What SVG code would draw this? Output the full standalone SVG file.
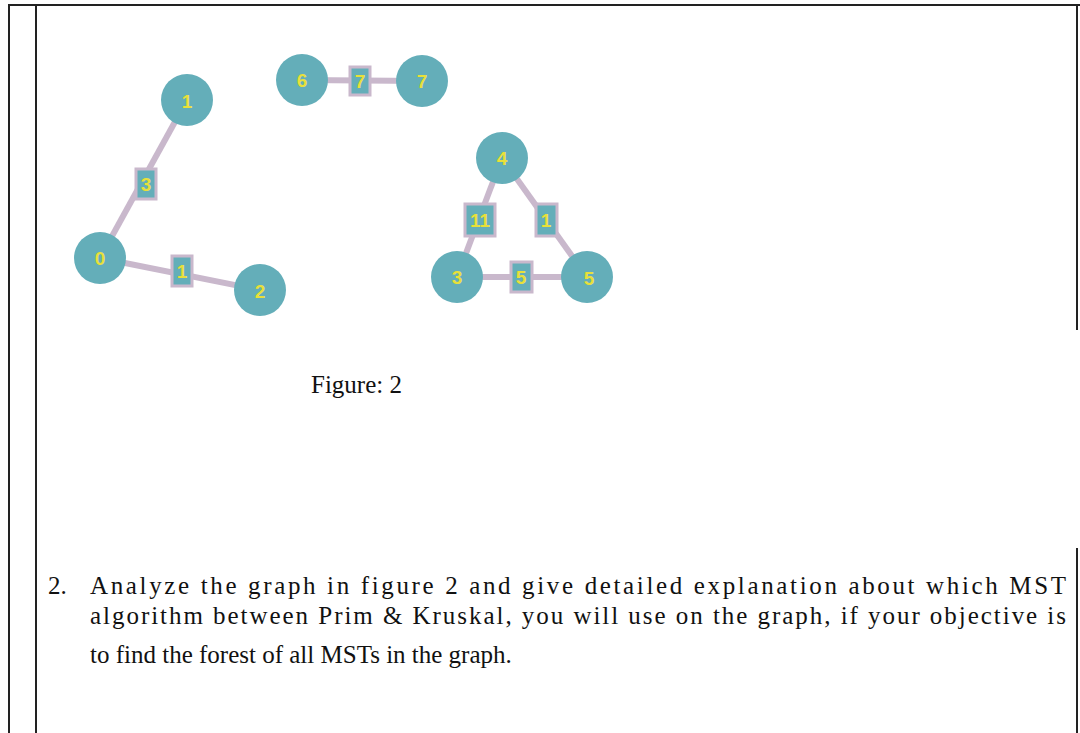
<svg xmlns="http://www.w3.org/2000/svg" width="1080" height="733" viewBox="0 0 1080 733">
<style>
.n{fill:#64aeb9}
.nt{font-family:"Liberation Sans",Arial,sans-serif;font-weight:bold;font-size:19px;fill:#e8e03a;text-anchor:middle;dominant-baseline:central}
.e{stroke:#c9b8cc;stroke-width:6;fill:none}
.w{fill:#64aeb9;stroke:#c9b8cc;stroke-width:3}
.p{font-family:"Liberation Serif","Times New Roman",serif;font-size:25px;fill:#111}
.b{stroke:#222;stroke-width:2;fill:none}
</style>
<rect width="1080" height="733" fill="#fff"/>
<g id="frame">
<line class="b" x1="8" y1="5" x2="1080" y2="5"/>
<line class="b" x1="9" y1="5" x2="9" y2="733"/>
<line class="b" x1="36" y1="5" x2="36" y2="733"/>
<line class="b" x1="1077" y1="5" x2="1077" y2="330"/>
<line class="b" x1="1077" y1="548" x2="1077" y2="733"/>
</g>
<g id="connectors">
<line class="e" x1="100" y1="258" x2="187" y2="100"/>
<line class="e" x1="100" y1="258" x2="260" y2="290"/>
<line class="e" x1="302" y1="80" x2="422" y2="81"/>
<line class="e" x1="502" y1="158" x2="457" y2="277"/>
<line class="e" x1="502" y1="158" x2="587" y2="277"/>
<line class="e" x1="457" y1="277" x2="587" y2="277"/>
<rect class="w" x="136" y="169" width="20" height="30"/><text class="nt" x="146" y="184">3</text>
<rect class="w" x="172" y="256" width="20" height="30"/><text class="nt" x="182" y="271">1</text>
<rect class="w" x="350" y="67" width="20" height="28"/><text class="nt" x="360" y="81">7</text>
<rect class="w" x="465" y="204" width="30" height="32"/><text class="nt" x="480" y="220">11</text>
<rect class="w" x="536" y="204" width="21" height="32"/><text class="nt" x="546" y="220">1</text>
<rect class="w" x="511" y="262" width="21" height="30"/><text class="nt" x="521" y="277">5</text>
</g>
<g id="n1"><circle class="n" cx="187" cy="100" r="26"/><text class="nt" x="187" y="101">1</text></g>
<g id="n6"><circle class="n" cx="302" cy="80" r="26"/><text class="nt" x="302" y="80">6</text></g>
<g id="n7"><circle class="n" cx="422" cy="81" r="26"/><text class="nt" x="422" y="81">7</text></g>
<g id="n0"><circle class="n" cx="100" cy="258" r="26"/><text class="nt" x="100" y="258">0</text></g>
<g id="n2"><circle class="n" cx="260" cy="290" r="26"/><text class="nt" x="260" y="291">2</text></g>
<g id="n4"><circle class="n" cx="502" cy="158" r="26"/><text class="nt" x="502" y="158">4</text></g>
<g id="n3"><circle class="n" cx="457" cy="277" r="26"/><text class="nt" x="457" y="277">3</text></g>
<g id="n5"><circle class="n" cx="587" cy="277" r="26"/><text class="nt" x="589" y="278">5</text></g>
<text class="p" x="311" y="393" font-size="23">Figure: 2</text>
<text class="p" x="48" y="594">2.</text>
<text class="p" x="90" y="594" textLength="976">Analyze the graph in figure 2 and give detailed explanation about which MST</text>
<text class="p" x="90" y="624" textLength="976">algorithm between Prim &amp; Kruskal, you will use on the graph, if your objective is</text>
<text class="p" x="90" y="663">to find the forest of all MSTs in the graph.</text>
</svg>
